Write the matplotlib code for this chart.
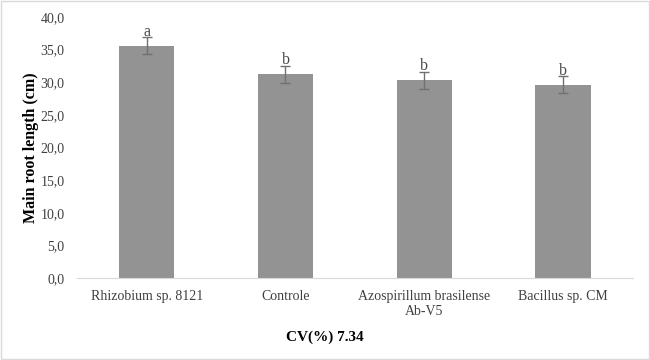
import matplotlib.pyplot as plt
import matplotlib.patches as patches
import numpy as np

plt.rcParams['font.family'] = ['Liberation Serif', 'DejaVu Serif']

# Data
categories = ['Rhizobium sp. 8121', 'Controle', 'Azospirillum brasilense\nAb-V5', 'Bacillus sp. CM']
root_length = [35.6, 31.2, 30.3, 29.6]
std_err = [1.3, 1.3, 1.3, 1.3]
letters = ['a', 'b', 'b', 'b']
yticks = [0, 5, 10, 15, 20, 25, 30, 35, 40]

fig = plt.figure(figsize=(6.5, 3.6), dpi=100)
ax = fig.add_axes([0.1188, 0.2278, 0.8543, 0.725])

x = np.arange(len(categories))
ax.bar(x, root_length, width=0.4, color='#939393', zorder=2)
ax.errorbar(x, root_length, yerr=std_err, fmt='none', ecolor='#707070',
            elinewidth=1.0, capsize=3.5, capthick=1.0, zorder=3)

# Significance letters sit right on the error bar caps
for xi, v, e, lab in zip(x, root_length, std_err, letters):
    ax.text(xi, v + e - 0.35, lab, ha='center', va='bottom', fontsize=11.5,
            color='#4a4a4a')

ax.set_xlim(-0.5, len(categories) - 0.5)
ax.set_ylim(0, 40)
ax.set_yticks(yticks)
ax.set_yticklabels([f'{t:.1f}'.replace('.', ',') for t in yticks])
ax.set_xticks(x)
ax.set_xticklabels(categories)

for side in ['top', 'right', 'left']:
    ax.spines[side].set_visible(False)
ax.spines['bottom'].set_color('#d9d9d9')
ax.tick_params(axis='both', length=0, labelsize=10, labelcolor='#404040')
ax.tick_params(axis='x', pad=9)
ax.tick_params(axis='y', pad=9)

ax.set_ylabel('Main root length (cm)', fontsize=11.5, fontweight='bold', labelpad=1)
fig.text(0.5, 0.064, 'CV(%) 7.34', ha='center', va='center', fontsize=11, fontweight='bold')

# Light frame around the chart area
fig.patches.append(patches.Rectangle((0.002, 0.004), 0.996, 0.992, transform=fig.transFigure,
                                     fill=False, edgecolor='#d9d9d9', linewidth=1.0))

fig.savefig('out.png', dpi=100)
